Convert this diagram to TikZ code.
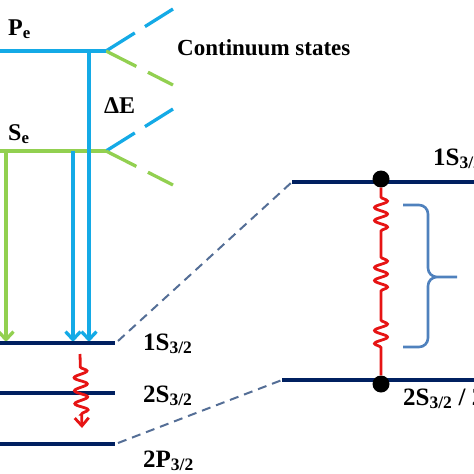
\documentclass[tikz,border=0pt]{standalone}
\usepackage{fontspec}
\setmainfont{Liberation Serif}
\usetikzlibrary{arrows.meta,decorations.pathmorphing}
\definecolor{skyb}{RGB}{20,170,230}
\definecolor{leaf}{RGB}{146,208,80}
\definecolor{navy}{RGB}{0,32,96}
\definecolor{redw}{RGB}{230,20,20}
\definecolor{bracec}{RGB}{79,129,189}
\definecolor{dashc}{RGB}{84,110,150}
\newcommand{\lsub}[1]{\textsubscript{#1}}
\begin{document}
\begin{tikzpicture}[x=1pt,y=-1pt,
  blueline/.style={draw=skyb,line width=3.3pt},
  greenline/.style={draw=leaf,line width=3.3pt},
  level/.style={draw=navy,line width=3.8pt},
  tipv/.style={-{Straight Barb[length=8pt,width=15pt]}},
  zoomdash/.style={draw=dashc,line width=2pt,dash pattern=on 9pt off 6pt},
  wave/.style={draw=redw,line width=2.8pt},
  dot/.style={circle,fill=black,minimum size=17pt,inner sep=0pt},
  biglab/.style={font=\fontsize{25}{30}\selectfont\bfseries,anchor=base west,inner sep=0pt},
  smalllab/.style={font=\fontsize{24}{28}\selectfont\bfseries,anchor=base west,inner sep=0pt}]
\useasboundingbox (0,0) rectangle (474,474);
% coordinates
\coordinate (pe0) at (0,51);   \coordinate (pe1) at (106,51);
\coordinate (se0) at (0,151);  \coordinate (se1) at (106,151);
\coordinate (peb) at (173,9);  \coordinate (peg) at (173,85);
\coordinate (seb) at (173,109);\coordinate (seg) at (173,185);
\coordinate (vbt) at (89,51);  \coordinate (vbb) at (89,342);
\coordinate (vct) at (73,151); \coordinate (vcb) at (73,342);
\coordinate (vgt) at (6,151);  \coordinate (vgb) at (6,342);
\coordinate (l1a) at (0,343);  \coordinate (l1b) at (115,343);
\coordinate (l2a) at (0,393);  \coordinate (l2b) at (115,393);
\coordinate (l3a) at (0,444);  \coordinate (l3b) at (115,444);
\coordinate (r1a) at (292,182);\coordinate (r1b) at (474,182);
\coordinate (r2a) at (282,380);\coordinate (r2b) at (474,380);
\coordinate (d1s) at (118,341);\coordinate (d2s) at (118,443);
\coordinate (wst) at (80,354); \coordinate (wen) at (82,428);
% continuum branches
\draw[blueline,dash pattern=on 34pt off 12pt on 60pt] (pe1) -- (peb);
\draw[greenline,dash pattern=on 34pt off 13pt on 60pt] (pe1) -- (peg);
\draw[blueline,dash pattern=on 34pt off 12pt on 60pt] (se1) -- (seb);
\draw[greenline,dash pattern=on 34pt off 13pt on 60pt] (se1) -- (seg);
% initial states
\draw[blueline] (pe0) -- (pe1);
\draw[greenline] (se0) -- (se1);
% transitions
\draw[greenline,tipv] (vgt) -- (vgb);
\draw[blueline,tipv] (vct) -- (vcb);
\draw[blueline,tipv] (vbt) -- (vbb);
% levels
\draw[level] (l1a) -- (l1b);
\draw[level] (l2a) -- (l2b);
\draw[level] (l3a) -- (l3b);
\draw[level] (r1a) -- (r1b);
\draw[level] (r2a) -- (r2b);
% zoom dashes
\draw[zoomdash] (d1s) -- (r1a);
\draw[zoomdash] (d2s) -- (r2a);
% left relaxation
\draw[wave,-{Straight Barb[length=8pt,width=14pt]},decorate,
  decoration={snake,amplitude=6.5pt,segment length=13pt,pre length=13pt,post length=11pt}]
  (wst) -- (wen);
% right relaxation
\node[dot] (dt) at (381,179) {};
\node[dot] (db) at (381,384) {};
\draw[wave] (dt) -- (381,197)
  decorate[decoration={snake,amplitude=6.5pt,segment length=13pt}]{-- (381,233)}
  -- (381,257)
  decorate[decoration={snake,amplitude=6.5pt,segment length=13pt}]{-- (381,297)}
  -- (381,320)
  decorate[decoration={snake,amplitude=6.5pt,segment length=13pt}]{-- (381,353)}
  -- (db);
% brace
\draw[draw=bracec,line width=2.6pt] (403,205) -- (419,205) to[out=0,in=90] (428,214)
  -- (428,268) to[out=-90,in=180] (437,277) -- (457,277)
  (437,277) to[out=180,in=90] (428,286) -- (428,338) to[out=-90,in=0] (419,347) -- (403,347);
% labels
\node[smalllab] (pel) at (8,35) {P\lsub{e}};
\node[smalllab] (sel) at (8,140) {S\lsub{e}};
\node[smalllab] (del) at (104,113) {ΔE};
\node[font=\fontsize{23}{28}\selectfont\bfseries,anchor=base west,inner sep=0pt] (cont) at (177,55) {Continuum states};
\node[biglab] (t1) at (143,350) {1S\lsub{3/2}};
\node[biglab] (t2) at (143,402) {2S\lsub{3/2}};
\node[biglab] (t3) at (143,467) {2P\lsub{3/2}};
\node[biglab] (t4) at (433,165) {1S\lsub{3/2}};
\node[biglab] (t5) at (403,405) {2S\lsub{3/2} / 2P\lsub{3/2}};
\end{tikzpicture}
\end{document}
